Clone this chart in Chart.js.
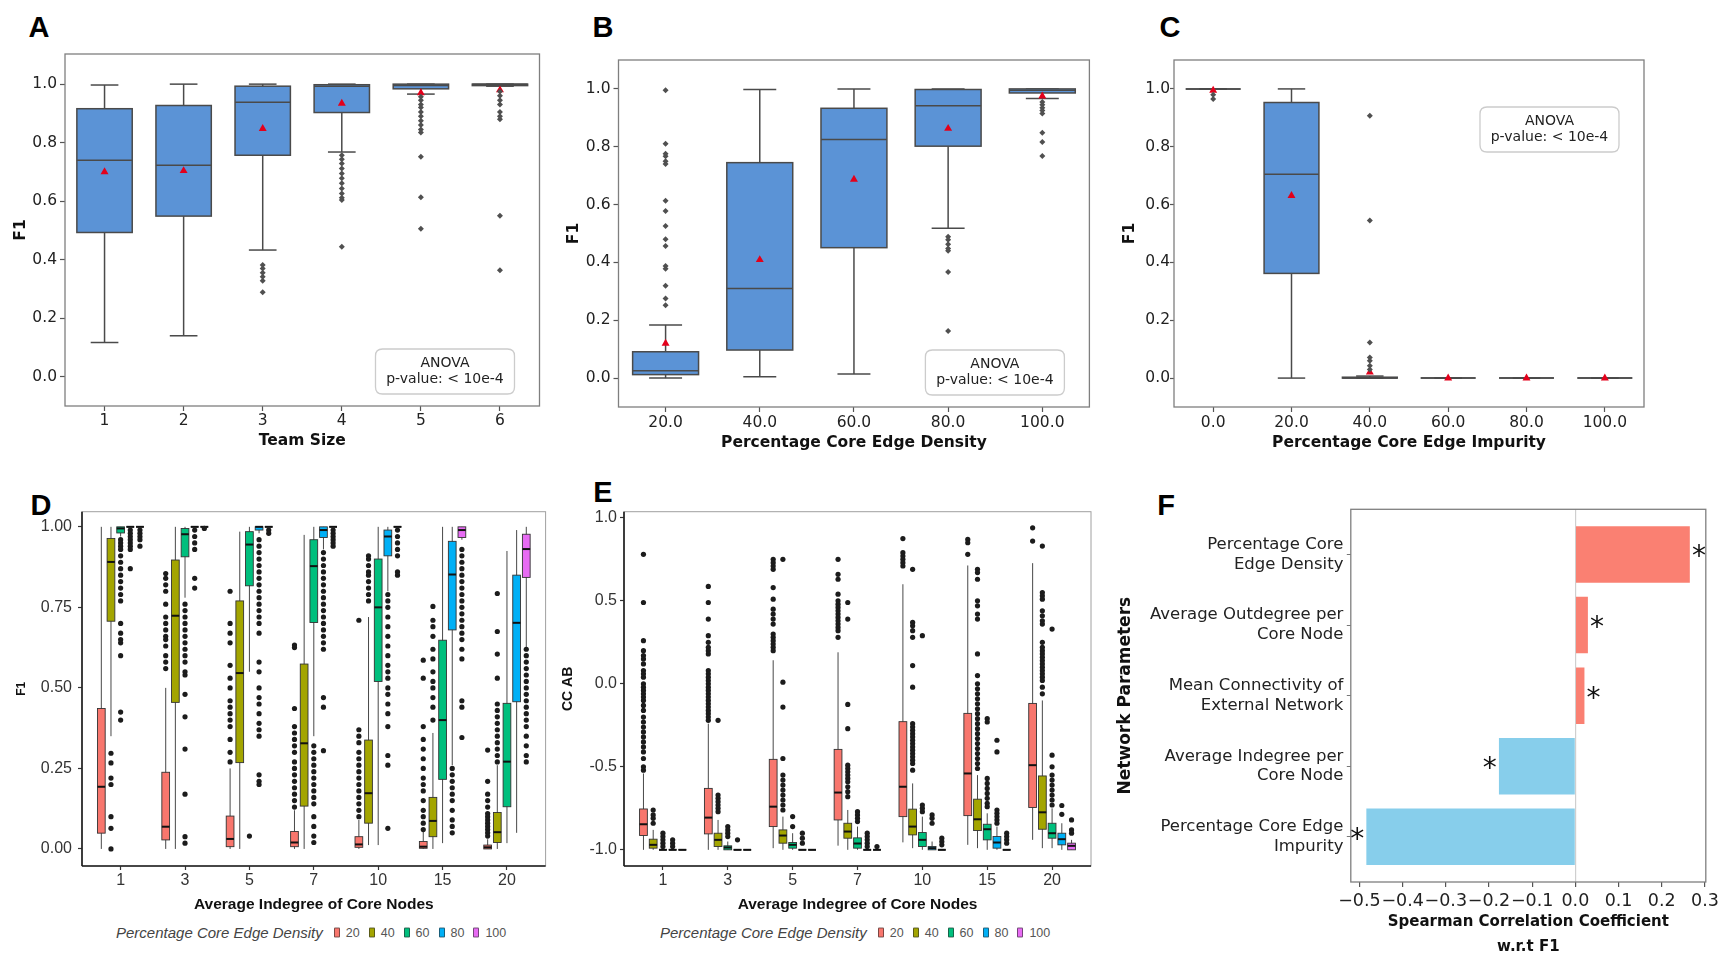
<!DOCTYPE html>
<html><head><meta charset="utf-8">
<script src="https://cdn.jsdelivr.net/npm/chart.js@4.4.1/dist/chart.umd.min.js"></script>
<style>
html,body{margin:0;padding:0;background:#fff;}
body{width:1725px;height:956px;position:relative;overflow:hidden;}
canvas{position:absolute;}
.letter{position:absolute;font:bold 29px 'Liberation Sans',Arial,sans-serif;color:#000;transform:translate(-50%,-50%);}
.leg{position:absolute;font:12.5px 'Liberation Sans',Arial,sans-serif;color:#555;white-space:nowrap;transform:translateY(-50%);display:flex;align-items:center;}
.leg i{font-size:15px;color:#444;margin-right:2px;}
.key{display:inline-block;width:4px;height:8px;margin:0 6px 0 9px;border:1px solid rgba(40,40,40,.6);border-radius:1px;}
</style></head><body>
<div class="letter" style="left:39px;top:27px">A</div>
<div class="letter" style="left:603px;top:27px">B</div>
<div class="letter" style="left:1170px;top:27px">C</div>
<div class="letter" style="left:41px;top:505px">D</div>
<div class="letter" style="left:603px;top:492px">E</div>
<div class="letter" style="left:1166px;top:505px">F</div>
<div class="leg" style="left:116px;top:932px"><i>Percentage Core Edge Density</i><span class="key" style="background:#F8766D"></span>20<span class="key" style="background:#A3A500"></span>40<span class="key" style="background:#00BF7D"></span>60<span class="key" style="background:#00B0F6"></span>80<span class="key" style="background:#E76BF3"></span>100</div>
<div class="leg" style="left:660px;top:932px"><i>Percentage Core Edge Density</i><span class="key" style="background:#F8766D"></span>20<span class="key" style="background:#A3A500"></span>40<span class="key" style="background:#00BF7D"></span>60<span class="key" style="background:#00B0F6"></span>80<span class="key" style="background:#E76BF3"></span>100</div>
<script>
// ================= DATA =================
// Box entries: [lower whisker, Q1, median, Q3, upper whisker]
const f1Ticks = [0, 0.2, 0.4, 0.6, 0.8, 1.0];

// ---- Panel A: Team Size ----
const aCategories = ['1','2','3','4','5','6'];
const aBoxes = [
  [0.117,0.493,0.740,0.916,0.997],
  [0.140,0.549,0.723,0.927,1.000],
  [0.433,0.757,0.938,0.993,1.000],
  [0.768,0.903,0.993,0.998,1.000],
  [0.966,0.984,0.995,1.000,1.000],
  [0.993,0.995,1.000,1.000,1.000]
];
const aMeans = [0.700,0.704,0.848,0.934,0.970,0.980];
const aOutliers = [
  [],[],
  [0.382,0.370,0.355,0.342,0.328,0.289],
  [0.757,0.743,0.729,0.712,0.695,0.678,0.661,0.643,0.626,0.612,0.604,0.444],
  [0.957,0.945,0.930,0.920,0.905,0.890,0.875,0.860,0.845,0.835,0.752,0.613,0.506],
  [0.975,0.960,0.945,0.930,0.905,0.890,0.880,0.550,0.364]
];

// ---- Panel B: Percentage Core Edge Density ----
const bCategories = ['20.0','40.0','60.0','80.0','100.0'];
const bBoxes = [
  [0.000,0.012,0.025,0.091,0.184],
  [0.005,0.097,0.310,0.745,0.998],
  [0.014,0.451,0.825,0.933,1.000],
  [0.518,0.802,0.942,0.998,1.000],
  [0.967,0.986,0.995,1.000,1.000]
];
const bMeans = [0.120,0.409,0.687,0.863,0.975];
const bOutliers = [
  [0.995,0.810,0.776,0.767,0.750,0.740,0.613,0.578,0.526,0.480,0.457,0.388,0.378,0.319,0.275,0.252],
  [],[],
  [0.489,0.478,0.463,0.448,0.440,0.367,0.163],
  [0.955,0.945,0.935,0.925,0.915,0.848,0.816,0.768]
];

// ---- Panel C: Percentage Core Edge Impurity ----
const cCategories = ['0.0','20.0','40.0','60.0','80.0','100.0'];
const cBoxes = [
  [1.000,1.000,1.000,1.000,1.000],
  [0.000,0.362,0.705,0.953,1.000],
  [0.000,0.000,0.000,0.003,0.007],
  [0,0,0,0,0],
  [0,0,0,0,0],
  [0,0,0,0,0]
];
const cMeans = [0.995,0.631,0.020,0.000,0.000,0.000];
const cOutliers = [
  [0.980,0.965],
  [],
  [0.907,0.545,0.123,0.071,0.060,0.043,0.030],
  [],[],[]
];

// ---- Panels D & E: Average Indegree of Core Nodes x Percentage Core Edge Density ----
const indegreeCategories = ['1','3','5','7','10','15','20'];
const densityLevels = ['20','40','60','80','100'];
const dTicks = [0, 0.25, 0.5, 0.75, 1.0];
const eTicks = [-1.0, -0.5, 0.0, 0.5, 1.0];

const dBox20 = [[0,0.049,0.193,0.436,1.0],[0,0.028,0.069,0.238,0.5],[0,0.007,0.031,0.102,0.25],[0,0.007,0.02,0.054,0.12],[0,0.005,0.014,0.038,0.09],[0,0.002,0.007,0.023,0.055],[0,0,0.005,0.012,0.03]];
const dOut20 = [[],[0.855,0.84,0.82,0.8,0.76,0.72,0.7,0.68,0.66,0.65,0.63,0.6,0.58,0.56],[0.8,0.7,0.67,0.64,0.57,0.53,0.5,0.46,0.44,0.42,0.4,0.38,0.34,0.3,0.27],[0.633,0.625,0.436,0.38,0.36,0.34,0.32,0.3,0.27,0.25,0.23,0.21,0.19,0.17,0.15,0.13],[0.71,0.37,0.35,0.33,0.3,0.28,0.26,0.24,0.22,0.2,0.18,0.16,0.14,0.12,0.1],[0.586,0.53,0.38,0.34,0.31,0.28,0.25,0.22,0.2,0.18,0.15,0.12,0.1,0.08,0.06],[0.307,0.21,0.17,0.15,0.13,0.11,0.1,0.09,0.08,0.07,0.06,0.05,0.04]];
const dBox40 = [[0.35,0.707,0.891,0.964,1.0],[0,0.455,0.724,0.897,1.0],[0,0.268,0.546,0.77,0.985],[0,0.133,0.328,0.574,0.975],[0.012,0.08,0.173,0.338,0.72],[0,0.038,0.087,0.16,0.36],[0,0.02,0.052,0.113,0.26]];
const dOut40 = [[0.297,0.267,0.22,0.2,0.1,0.064,0.0],[],[],[],[0.91,0.9,0.88,0.86,0.85,0.83,0.81,0.79,0.77],[0.753,0.71,0.69,0.66,0.62,0.59,0.55,0.52,0.5,0.47,0.44,0.4],[0.793,0.675,0.605,0.53,0.45,0.43,0.41,0.39,0.37,0.35,0.33,0.31,0.29,0.27]];
const dBox60 = [[0.97,0.981,0.995,1,1],[0.78,0.907,0.977,0.995,1],[0.55,0.817,0.945,0.985,1],[0.35,0.703,0.878,0.96,1],[0.012,0.52,0.75,0.9,1],[0.018,0.216,0.4,0.648,1],[0.018,0.131,0.271,0.452,0.925]];
const dOut60 = [[0.96,0.95,0.94,0.93,0.91,0.89,0.87,0.85,0.83,0.81,0.79,0.77,0.7,0.67,0.65,0.64,0.6,0.425,0.4],[0.76,0.74,0.72,0.7,0.68,0.66,0.64,0.62,0.6,0.58,0.55,0.54,0.48,0.41,0.31,0.17,0.038,0.018],[0.04],[0.32,0.3,0.28,0.26,0.24,0.22,0.2,0.18,0.16,0.14,0.1,0.07,0.04,0.02],[],[],[]];
const dBox80 = [[1,1,1,1,1],[1,1,1,1,1],[0.98,0.99,1,1,1],[0.93,0.967,0.99,1,1],[0.8,0.91,0.97,0.99,1],[0.26,0.68,0.852,0.955,1],[0.05,0.457,0.702,0.85,0.99]];
const dOut80 = [[0.99,0.98,0.97,0.96,0.95,0.94,0.93,0.87],[0.99,0.97,0.95,0.93,0.84,0.81],[0.96,0.94,0.92,0.9,0.88,0.86,0.84,0.82,0.8,0.78,0.76,0.74,0.72,0.7,0.67,0.58,0.55,0.5,0.47,0.45,0.42,0.39,0.37,0.35,0.23,0.21,0.2],[0.92,0.9,0.88,0.86,0.84,0.82,0.8,0.78,0.76,0.74,0.72,0.7,0.68,0.66,0.64,0.62,0.47,0.44,0.305],[0.79,0.77,0.75,0.72,0.69,0.66,0.63,0.6,0.57,0.55,0.53,0.5,0.48,0.45,0.42,0.38,0.29,0.26,0.064],[0.25,0.23,0.21,0.19,0.17,0.15,0.12,0.09,0.07,0.05],[]];
const dBox100 = [[1,1,1,1,1],[1,1,1,1,1],[1,1,1,1,1],[1,1,1,1,1],[1,1,1,1,1],[0.96,0.967,0.99,1,1],[0.627,0.843,0.931,0.977,1]];
const dOut100 = [[0.99,0.98,0.97,0.96,0.94],[0.995],[0.99,0.98],[0.99,0.98,0.97,0.96,0.95,0.94],[0.99,0.97,0.95,0.93,0.91,0.86,0.85],[0.93,0.91,0.89,0.87,0.85,0.83,0.81,0.79,0.77,0.75,0.73,0.71,0.69,0.67,0.65,0.62,0.59,0.46,0.44,0.346],[0.62,0.6,0.58,0.56,0.54,0.52,0.5,0.48,0.46,0.44,0.42,0.4,0.38,0.35,0.32,0.29,0.27]];

const eBox20 = [[-1,-0.914,-0.846,-0.754,-0.54],[-1,-0.904,-0.806,-0.63,-0.24],[-0.99,-0.86,-0.74,-0.455,0.142],[-0.975,-0.82,-0.655,-0.395,0.19],[-0.955,-0.8,-0.62,-0.228,0.6],[-0.97,-0.794,-0.54,-0.178,0.713],[-0.94,-0.745,-0.49,-0.118,0.727]];
const eOut20 = [[0.78,0.49,0.26,0.2,0.17,0.15,0.12,0.08,0.06,0.04,0.0,-0.02,-0.04,-0.06,-0.08,-0.1,-0.13,-0.16,-0.2,-0.23,-0.26,-0.29,-0.32,-0.35,-0.38,-0.41,-0.45,-0.5,-0.52],[0.587,0.49,0.39,0.29,0.25,0.22,0.2,0.18,0.08,0.06,0.04,0.02,0.0,-0.02,-0.04,-0.06,-0.08,-0.1,-0.12,-0.14,-0.16,-0.18,-0.2,-0.22],[0.75,0.73,0.71,0.69,0.58,0.51,0.45,0.42,0.39,0.36,0.3,0.28,0.26,0.24,0.22,0.2],[0.75,0.66,0.63,0.54,0.5,0.48,0.46,0.44,0.42,0.4,0.38,0.36,0.34,0.32,0.28],[0.875,0.79,0.77,0.75,0.73,0.71],[0.87,0.85,0.78],[0.94,0.86]];
const eBox40 = [[-1,-0.99,-0.97,-0.936,-0.88],[-1,-0.98,-0.94,-0.9,-0.82],[-1,-0.96,-0.914,-0.88,-0.8],[-1,-0.93,-0.89,-0.84,-0.76],[-0.99,-0.91,-0.86,-0.755,-0.6],[-0.99,-0.884,-0.816,-0.695,-0.55],[-0.99,-0.876,-0.774,-0.555,-0.1]];
const eOut40 = [[-0.76,-0.79,-0.81,-0.84],[-0.22,-0.67,-0.69,-0.71,-0.73,-0.75,-0.77],[0.75,0.01,-0.14,-0.45,-0.55,-0.58,-0.61,-0.64,-0.67,-0.7,-0.73,-0.76],[0.49,0.39,-0.124,-0.27,-0.49,-0.51,-0.53,-0.55,-0.57,-0.59,-0.62,-0.65,-0.68],[0.69,0.37,0.35,0.32,0.28,0.11,-0.02,-0.24,-0.26,-0.28,-0.3,-0.32,-0.34,-0.36,-0.38,-0.4,-0.42,-0.44,-0.46,-0.48,-0.52],[0.69,0.67,0.63,0.5,0.47,0.42,0.39,0.18,0.05,0.0,-0.03,-0.06,-0.09,-0.12,-0.15,-0.18,-0.21,-0.24,-0.27,-0.3,-0.33,-0.36,-0.39,-0.42,-0.45,-0.48,-0.51],[0.83,0.55,0.53,0.51,0.44,0.41,0.38,0.36,0.25,0.22,0.2,0.18,0.16,0.14,0.12,0.1,0.08,0.06,0.04,0.02,-0.02,-0.06]];
const eBox60 = [[-1,-1,-1,-1,-1],[-1,-1,-0.986,-0.976,-0.95],[-1,-0.99,-0.97,-0.956,-0.9],[-1,-0.99,-0.962,-0.928,-0.86],[-1,-0.98,-0.94,-0.896,-0.8],[-1,-0.94,-0.876,-0.846,-0.78],[-0.99,-0.93,-0.9,-0.84,-0.75]];
const eOut60 = [[-0.9,-0.92,-0.94,-0.96,-0.98],[-0.86,-0.88,-0.9,-0.92],[-0.8,-0.86],[-0.77,-0.79,-0.81,-0.83],[0.29,-0.73,-0.75,-0.77],[-0.21,-0.23,-0.57,-0.6,-0.63,-0.66,-0.69,-0.72,-0.74],[0.33,-0.43,-0.5,-0.55,-0.58,-0.61,-0.64,-0.67,-0.7,-0.73]];
const eBox80 = [[-1,-1,-1,-1,-1],[-1,-1,-1,-1,-1],[-1,-1,-1,-1,-1],[-1,-1,-1,-1,-1],[-1,-1,-0.99,-0.98,-0.95],[-1,-0.99,-0.956,-0.92,-0.86],[-1,-0.97,-0.936,-0.9,-0.84]];
const eOut80 = [[-0.94,-0.96,-0.98],[-0.94],[-0.9,-0.93,-0.96],[-0.9,-0.92,-0.94,-0.96,-0.98],[-0.79,-0.81,-0.84],[-0.34,-0.41,-0.76,-0.78,-0.8,-0.82,-0.84],[-0.733,-0.786]];
const eBox100 = [[-1,-1,-1,-1,-1],[-1,-1,-1,-1,-1],[-1,-1,-1,-1,-1],[-1,-1,-1,-1,-1],[-1,-1,-1,-1,-1],[-1,-1,-1,-1,-1],[-1,-1,-0.976,-0.96,-0.94]];
const eOut100 = [[],[],[],[-0.98],[-0.93,-0.95,-0.97],[-0.9,-0.92,-0.94,-0.96],[-0.82,-0.88,-0.9]];

// ---- Panel F: Spearman correlation ----
const fLabels = [["Percentage Core","Edge Density"],["Average Outdegree per","Core Node"],["Mean Connectivity of","External Network"],["Average Indegree per","Core Node"],["Percentage Core Edge","Impurity"]];
const fValues = [0.265, 0.029, 0.021, -0.177, -0.484];
const fSignificant = [true, true, true, true, true];
const fTicks = [-0.5,-0.4,-0.3,-0.2,-0.1,0.0,0.1,0.2,0.3];

// ================= STYLE / RENDER =================
Chart.defaults.animation = false;
Chart.defaults.responsive = false;
Chart.defaults.devicePixelRatio = 1;
Chart.defaults.events = [];
Chart.defaults.plugins.legend.display = false;
Chart.defaults.plugins.tooltip.enabled = false;

const MPL = {family:"'DejaVu Sans', sans-serif", tick:15.5, title:15.5, tickColor:'#222', mark:'#555', tickLen:5, frame:'#7f7f7f'};
const GG  = {family:"'Liberation Sans', Arial, sans-serif", tick:16, title:15.5, tickColor:'#333', mark:'#333', tickLen:4, frame:'#a0a0a0'};
const BOX_BLUE = '#5b93d6';
const HUES = ['#F8766D','#A3A500','#00BF7D','#00B0F6','#E76BF3'];

function addCanvas(id, left, top, w, h) {
  const c = document.createElement('canvas');
  c.id = id; c.width = w; c.height = h;
  c.style.left = left + 'px'; c.style.top = top + 'px';
  c.style.width = w + 'px'; c.style.height = h + 'px';
  document.body.appendChild(c);
  return c;
}

function seg(ctx, x1, y1, x2, y2) { ctx.beginPath(); ctx.moveTo(x1, y1); ctx.lineTo(x2, y2); ctx.stroke(); }

function roundRectPath(ctx, x, y, w, h, r) {
  ctx.beginPath();
  ctx.moveTo(x + r, y); ctx.lineTo(x + w - r, y); ctx.quadraticCurveTo(x + w, y, x + w, y + r);
  ctx.lineTo(x + w, y + h - r); ctx.quadraticCurveTo(x + w, y + h, x + w - r, y + h);
  ctx.lineTo(x + r, y + h); ctx.quadraticCurveTo(x, y + h, x, y + h - r);
  ctx.lineTo(x, y + r); ctx.quadraticCurveTo(x, y, x + r, y); ctx.closePath();
}

function boxesPlugin(o) {
  const mpl = o.style === 'mpl';
  return {
    id: 'boxes_' + o.id,
    beforeDatasetsDraw(chart) {
      const ctx = chart.ctx, xs = chart.scales.x, ys = chart.scales.y;
      ctx.save();
      o.series.forEach(s => {
        s.boxes.forEach((b, i) => {
          const cx = xs.getPixelForValue(i + s.offset);
          const hw = Math.abs(xs.getPixelForValue(i + s.offset + s.width / 2) - cx);
          const lo = ys.getPixelForValue(b[0]), q1 = ys.getPixelForValue(b[1]), md = ys.getPixelForValue(b[2]),
                q3 = ys.getPixelForValue(b[3]), hi = ys.getPixelForValue(b[4]);
          if (mpl) {
            ctx.strokeStyle = '#4a4a4a'; ctx.lineWidth = 1.5;
            seg(ctx, cx, q3, cx, hi); seg(ctx, cx, q1, cx, lo);
            seg(ctx, cx - hw / 2, hi, cx + hw / 2, hi); seg(ctx, cx - hw / 2, lo, cx + hw / 2, lo);
            ctx.fillStyle = s.color; ctx.fillRect(cx - hw, q3, 2 * hw, q1 - q3);
            ctx.strokeRect(cx - hw, q3, 2 * hw, q1 - q3);
            seg(ctx, cx - hw, md, cx + hw, md);
          } else {
            ctx.strokeStyle = '#333'; ctx.lineWidth = 0.9;
            seg(ctx, cx, hi, cx, lo);
            ctx.fillStyle = s.color; ctx.fillRect(cx - hw, q3, 2 * hw, q1 - q3);
            ctx.strokeRect(cx - hw, q3, 2 * hw, q1 - q3);
            ctx.strokeStyle = '#111'; ctx.lineWidth = 2;
            seg(ctx, cx - hw, md, cx + hw, md);
          }
        });
      });
      ctx.restore();
    },
    afterDatasetsDraw(chart) {
      const ctx = chart.ctx, ca = chart.chartArea;
      ctx.save();
      if (mpl) {
        ctx.strokeStyle = MPL.frame; ctx.lineWidth = 1.3;
        ctx.strokeRect(ca.left, ca.top, ca.right - ca.left, ca.bottom - ca.top);
      } else {
        ctx.strokeStyle = GG.frame; ctx.lineWidth = 1;
        ctx.strokeRect(ca.left, ca.top, ca.right - ca.left, ca.bottom - ca.top);
        ctx.strokeStyle = '#1a1a1a'; ctx.lineWidth = 1.6;
        seg(ctx, ca.left, ca.top, ca.left, ca.bottom); seg(ctx, ca.left, ca.bottom, ca.right, ca.bottom);
      }
      if (o.anova) {
        const w = 139, h = 45;
        const x = ca.right - 25 - w;
        const y = o.anova === 'top' ? ca.top + 47 : ca.bottom - 12 - h;
        roundRectPath(ctx, x, y, w, h, 7);
        ctx.fillStyle = 'rgba(255,255,255,0.85)'; ctx.fill();
        ctx.strokeStyle = '#cccccc'; ctx.lineWidth = 1.3; ctx.stroke();
        ctx.fillStyle = '#222'; ctx.font = "14px 'DejaVu Sans', sans-serif";
        ctx.textAlign = 'center'; ctx.textBaseline = 'middle';
        ctx.fillText('ANOVA', x + w / 2, y + 14);
        ctx.fillText('p-value: < 10e-4', x + w / 2, y + 30);
      }
      ctx.restore();
    }
  };
}

function makeBoxChart(o) {
  const c = addCanvas(o.id, o.left, o.top, o.w, o.h);
  const mpl = o.style === 'mpl';
  const st = mpl ? MPL : GG;
  const datasets = [];
  o.series.forEach(s => {
    const pts = [];
    s.outliers.forEach((arr, i) => arr.forEach(v => pts.push({x: i + s.offset, y: v})));
    datasets.push({label: s.name + ' outliers', data: pts,
      pointStyle: mpl ? 'rectRot' : 'circle', pointRadius: mpl ? 3 : 2.6,
      backgroundColor: mpl ? '#505050' : '#1c1c1c', borderColor: mpl ? '#505050' : '#1c1c1c', borderWidth: 0});
  });
  o.series.forEach(s => {
    if (s.means) datasets.push({label: s.name + ' mean', data: s.means.map((v, i) => ({x: i + s.offset, y: v})),
      pointStyle: 'triangle', pointRadius: 4.6, backgroundColor: '#e3001b', borderColor: '#e3001b', borderWidth: 0});
  });
  return new Chart(c, {
    type: 'scatter',
    data: {datasets},
    options: {
      layout: {padding: {left: 0, top: o.padTop, right: o.padRight, bottom: 0}},
      scales: {
        x: {
          type: 'linear', min: o.xMin, max: o.xMax, bounds: 'data',
          afterBuildTicks: s => { s.ticks = o.cats.map((_, i) => ({value: i})); },
          afterFit: s => { s.height = o.xAxisH; },
          grid: {display: true, drawOnChartArea: false, drawTicks: true, tickLength: st.tickLen, tickColor: st.mark, tickWidth: 1.2},
          border: {display: false},
          ticks: {autoSkip: false, maxRotation: 0, padding: o.xTickPad, color: st.tickColor,
                  font: {family: st.family, size: st.tick}, callback: v => o.cats[Math.round(v)]},
          title: {display: true, text: o.xTitle, color: '#111', font: {family: st.family, size: st.title, weight: 'bold'},
                  padding: {top: 0, bottom: o.xTitlePadB}}
        },
        y: {
          type: 'linear', min: o.yMin, max: o.yMax, bounds: 'data',
          afterBuildTicks: s => { s.ticks = o.yTicks.map(v => ({value: v})); },
          afterFit: s => { s.width = o.yAxisW; },
          grid: {display: true, drawOnChartArea: false, drawTicks: true, tickLength: o.yTickLen || st.tickLen, tickColor: st.mark, tickWidth: 1.2},
          border: {display: false},
          ticks: {autoSkip: false, padding: o.yTickPad, color: st.tickColor,
                  font: {family: st.family, size: st.tick}, callback: v => v.toFixed(o.yDec)},
          title: {display: true, text: o.yTitle, color: '#111', font: {family: st.family, size: o.yTitleSize || st.title, weight: 'bold'},
                  padding: {top: o.yTitlePadT, bottom: 0}}
        }
      }
    },
    plugins: [boxesPlugin(o)]
  });
}

// ---- A ----
makeBoxChart({id: 'chartA', left: 0, top: 30, w: 560, h: 420, padTop: 24, padRight: 20.5, yAxisW: 65, xAxisH: 44,
  xMin: -0.5, xMax: 5.5, yMin: -0.1, yMax: 1.103, cats: aCategories, yTicks: f1Ticks, yDec: 1, style: 'mpl',
  xTitle: 'Team Size', yTitle: 'F1', xTickPad: 1, yTickPad: 3, xTitlePadB: 0, yTitlePadT: 12, anova: 'bottom',
  series: [{name: 'F1', offset: 0, width: 0.7, color: BOX_BLUE, boxes: aBoxes, outliers: aOutliers, means: aMeans}]});

// ---- B ----
makeBoxChart({id: 'chartB', left: 560, top: 30, w: 560, h: 425, padTop: 30, padRight: 30.6, yAxisW: 58.5, xAxisH: 48,
  xMin: -0.5, xMax: 4.5, yMin: -0.1, yMax: 1.1, cats: bCategories, yTicks: f1Ticks, yDec: 1, style: 'mpl',
  xTitle: 'Percentage Core Edge Density', yTitle: 'F1', xTickPad: 2, yTickPad: 3, xTitlePadB: 2.7, yTitlePadT: 4.7, anova: 'bottom',
  series: [{name: 'F1', offset: 0, width: 0.7, color: BOX_BLUE, boxes: bBoxes, outliers: bOutliers, means: bMeans}]});

// ---- C ----
makeBoxChart({id: 'chartC', left: 1120, top: 30, w: 605, h: 425, padTop: 30, padRight: 81, yAxisW: 54, xAxisH: 48,
  xMin: -0.5, xMax: 5.5, yMin: -0.1, yMax: 1.1, cats: cCategories, yTicks: f1Ticks, yDec: 1, style: 'mpl',
  xTitle: 'Percentage Core Edge Impurity', yTitle: 'F1', xTickPad: 2, yTickPad: 0, yTickLen: 4, xTitlePadB: 2.7, yTitlePadT: 0.7, anova: 'top',
  series: [{name: 'F1', offset: 0, width: 0.7, color: BOX_BLUE, boxes: cBoxes, outliers: cOutliers, means: cMeans}]});

// ---- D ----
const dBoxes = [dBox20, dBox40, dBox60, dBox80, dBox100];
const dOuts = [dOut20, dOut40, dOut60, dOut80, dOut100];
makeBoxChart({id: 'chartD', left: 0, top: 490, w: 560, h: 430, padTop: 21.7, padRight: 14.4, yAxisW: 82, xAxisH: 54,
  xMin: -0.6, xMax: 6.6, yMin: -0.053, yMax: 1.047, cats: indegreeCategories, yTicks: dTicks, yDec: 2, style: 'gg',
  xTitle: 'Average Indegree of Core Nodes', yTitle: 'F1', yTitleSize: 12, xTickPad: 1, yTickPad: 6, xTitlePadB: 6, yTitlePadT: 14,
  series: densityLevels.map((lv, k) => ({name: lv, offset: (k - 2) * 0.15, width: 0.12, color: HUES[k], boxes: dBoxes[k], outliers: dOuts[k]}))});

// ---- E ----
const eBoxes = [eBox20, eBox40, eBox60, eBox80, eBox100];
const eOuts = [eOut20, eOut40, eOut60, eOut80, eOut100];
makeBoxChart({id: 'chartE', left: 560, top: 490, w: 560, h: 430, padTop: 21.7, padRight: 29, yAxisW: 64, xAxisH: 54,
  xMin: -0.6, xMax: 6.6, yMin: -1.0975, yMax: 1.037, cats: indegreeCategories, yTicks: eTicks, yDec: 1, style: 'gg',
  xTitle: 'Average Indegree of Core Nodes', yTitle: 'CC AB', yTitleSize: 14, xTickPad: 1, yTickPad: 3, xTitlePadB: 6, yTitlePadT: 0,
  series: densityLevels.map((lv, k) => ({name: lv, offset: (k - 2) * 0.15, width: 0.12, color: HUES[k], boxes: eBoxes[k], outliers: eOuts[k]}))});

// ---- F ----
(function () {
  const c = addCanvas('chartF', 1110, 490, 615, 470);
  const fam = "'DejaVu Sans', sans-serif";
  const starPlugin = {
    id: 'stars',
    afterDatasetsDraw(chart) {
      const ctx = chart.ctx, xs = chart.scales.x, ys = chart.scales.y, ca = chart.chartArea;
      ctx.save();
      ctx.strokeStyle = MPL.frame; ctx.lineWidth = 1.3;
      ctx.strokeRect(ca.left, ca.top, ca.right - ca.left, ca.bottom - ca.top);
      ctx.fillStyle = '#111'; ctx.font = '28px ' + fam; ctx.textAlign = 'center'; ctx.textBaseline = 'alphabetic';
      fValues.forEach((v, i) => {
        if (!fSignificant[i]) return;
        const x = xs.getPixelForValue(v + (v >= 0 ? 0.021 : -0.021));
        const y = ys.getPixelForValue(i) + 11;
        ctx.fillText('*', x, y);
      });
      ctx.restore();
    }
  };
  new Chart(c, {
    type: 'bar',
    data: {datasets: [{label: 'Spearman Correlation Coefficient', data: fValues.map((v, i) => ({x: v, y: i})),
      backgroundColor: fValues.map(v => v >= 0 ? '#FA8072' : '#87CEEB'), borderWidth: 0,
      categoryPercentage: 0.8, barPercentage: 1.0}]},
    options: {
      indexAxis: 'y',
      layout: {padding: {left: 0, top: 19.3, right: 19.2, bottom: 0}},
      scales: {
        x: {
          type: 'linear', min: -0.52, max: 0.302, bounds: 'data', offset: false,
          afterBuildTicks: s => { s.ticks = fTicks.map(v => ({value: v})); },
          afterFit: s => { s.height = 78; s.paddingLeft = 0; s.paddingRight = 0; },
          grid: {display: true, offset: false, drawOnChartArea: true, drawTicks: true, tickLength: 5, tickColor: '#555', tickWidth: 1.2,
                 color: ctx => (ctx.tick && Math.abs(ctx.tick.value) < 1e-9) ? '#cfcfcf' : 'rgba(0,0,0,0)', lineWidth: 1.2},
          border: {display: false},
          ticks: {autoSkip: false, maxRotation: 0, padding: 4, color: '#222', font: {family: fam, size: 17.5},
                  callback: v => (v < -1e-9 ? '\u2212' : '') + Math.abs(v).toFixed(1)},
          title: {display: true, text: ['Spearman Correlation Coefficient', 'w.r.t F1'], color: '#111',
                  font: {family: fam, size: 15, weight: 'bold', lineHeight: 1.65}, padding: {top: 0, bottom: 0.6}}
        },
        y: {
          type: 'linear', reverse: true, min: -0.64, max: 4.64, bounds: 'data', offset: false,
          afterBuildTicks: s => { s.ticks = fLabels.map((_, i) => ({value: i})); },
          afterFit: s => { s.width = 240.8; s.paddingTop = 0; s.paddingBottom = 0; },
          grid: {display: true, offset: false, drawOnChartArea: false, drawTicks: true, tickLength: 4, tickColor: '#777', tickWidth: 1},
          border: {display: false},
          ticks: {autoSkip: false, padding: 3.4, color: '#222', font: {family: fam, size: 16.5, lineHeight: 1.2},
                  callback: v => fLabels[Math.round(v)]},
          title: {display: true, text: 'Network Parameters', color: '#111', font: {family: fam, size: 17, weight: 'bold'},
                  padding: {top: 5.8, bottom: 0}}
        }
      }
    },
    plugins: [starPlugin]
  });
})();
</script>
</body></html>
